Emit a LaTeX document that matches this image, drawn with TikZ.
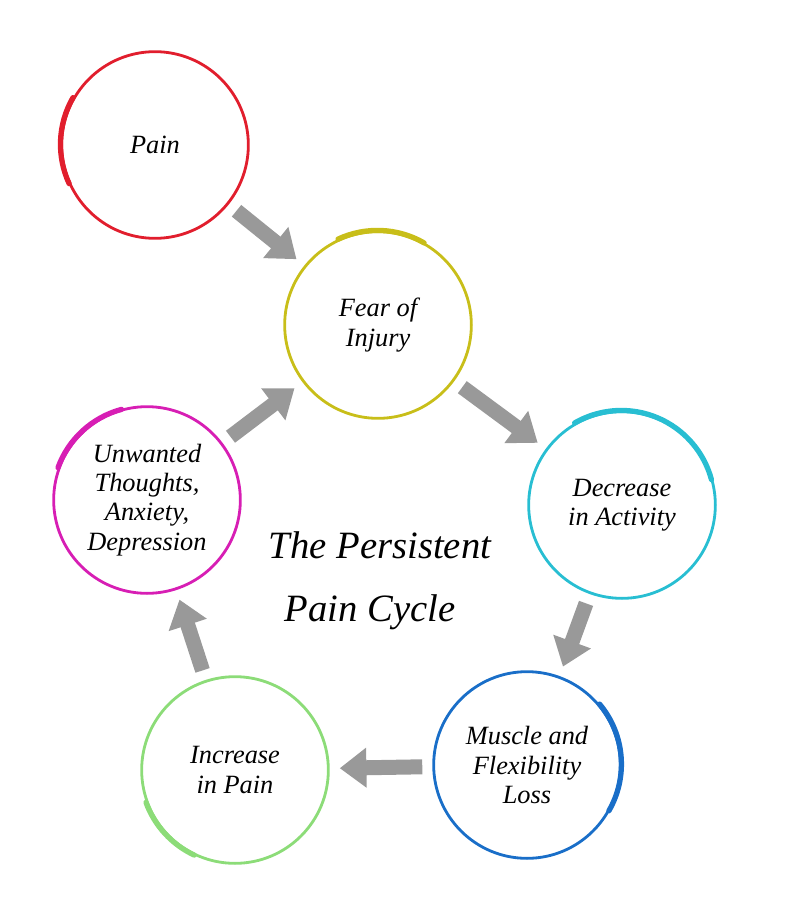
\documentclass[tikz,border=0pt]{standalone}
\usepackage{fontspec}
\setmainfont{Liberation Serif}
\usetikzlibrary{arrows.meta}
\definecolor{painred}{RGB}{225,30,45}
\definecolor{fearolive}{RGB}{200,190,25}
\definecolor{deccyan}{RGB}{40,190,210}
\definecolor{musblue}{RGB}{25,110,200}
\definecolor{incgreen}{RGB}{140,220,120}
\definecolor{unwmag}{RGB}{215,30,180}
\tikzset{
  stage/.style={circle, draw=#1, line width=2.4pt, minimum size=5.6cm, inner sep=0pt,
    align=center, font=\fontsize{22.5}{25}\selectfont\itshape},
  stroke/.style={draw=#1, line width=4.5pt, line cap=round},
  cyclearrow/.style={draw=gray!80, line width=0.45cm, shorten <=0.3cm, shorten >=0.3cm,
    -{Triangle[length=0.8cm, width=1.15cm]}}
}
\begin{document}
\begin{tikzpicture}[x=0.03cm, y=-0.03cm]
  \useasboundingbox (0,0) rectangle (792,900);
  % stages
  \node[stage=painred] (pain) at (155,145) {Pain};
  \node[stage=fearolive] (fear) at (378,325) {Fear of\\Injury};
  \node[stage=deccyan] (decrease) at (622,505) {Decrease\\in Activity};
  \node[stage=musblue] (muscle) at (527,765) {Muscle and\\Flexibility\\Loss};
  \node[stage=incgreen] (increase) at (235,770) {Increase\\in Pain};
  \node[stage=unwmag] (unwanted) at (147,500) {Unwanted\\Thoughts,\\Anxiety,\\Depression};
  % heavier strokes
  \draw[stroke=painred] (pain.150) arc[start angle=150, end angle=205, radius=2.8cm];
  \draw[stroke=fearolive] (fear.115) arc[start angle=115, end angle=60, radius=2.8cm];
  \draw[stroke=deccyan] (decrease.120) arc[start angle=120, end angle=15, radius=2.8cm];
  \draw[stroke=musblue] (muscle.40) arc[start angle=40, end angle=-30, radius=2.8cm];
  \draw[stroke=incgreen] (increase.200) arc[start angle=200, end angle=245, radius=2.8cm];
  \draw[stroke=unwmag] (unwanted.160) arc[start angle=160, end angle=105, radius=2.8cm];
  % title
  \node[font=\fontsize{33}{38}\selectfont\itshape] (title1) at (380,545) {The Persistent};
  \node[font=\fontsize{33}{38}\selectfont\itshape] (title2) at (370,612) {Pain Cycle};
  % arrows
  \draw[cyclearrow] (pain) -- (fear);
  \draw[cyclearrow] (fear) -- (decrease);
  \draw[cyclearrow] (decrease) -- (muscle);
  \draw[cyclearrow] (muscle) -- (increase);
  \draw[cyclearrow] (increase) -- (unwanted);
  \draw[cyclearrow] (unwanted) -- (fear);
\end{tikzpicture}
\end{document}
